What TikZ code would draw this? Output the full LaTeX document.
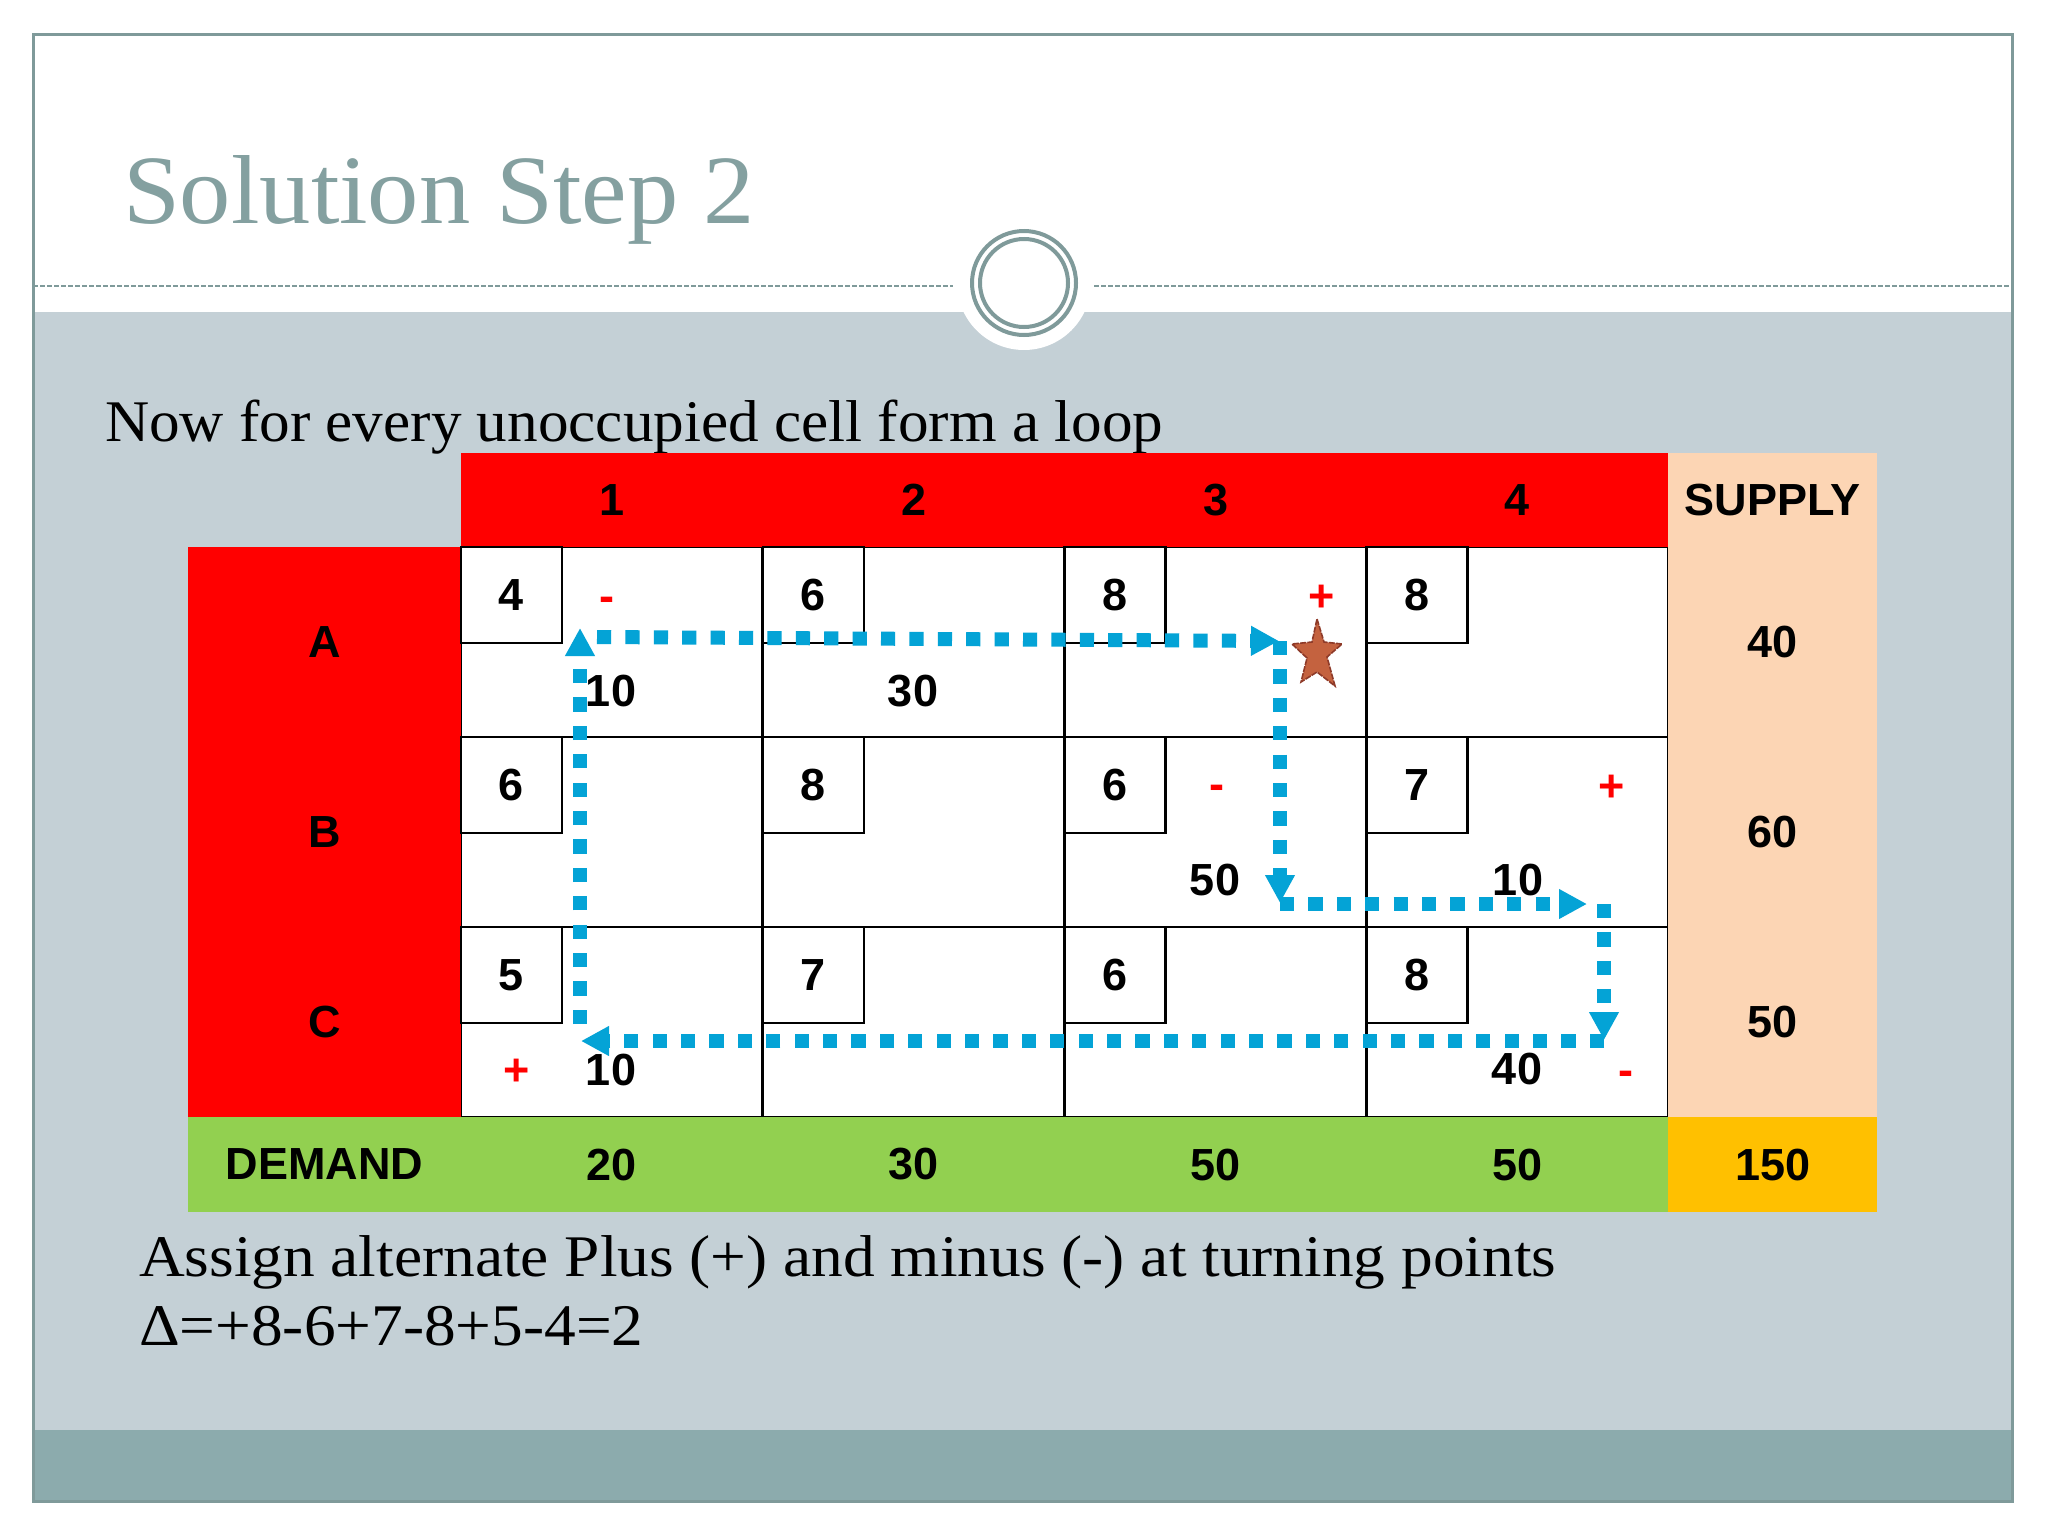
\documentclass[tikz,border=0pt]{standalone}
\usepackage{fontspec}
\usepackage{xcolor}
\usepackage{tikz}
\usetikzlibrary{positioning,arrows.meta}
\setmainfont{Liberation Serif}
\newfontfamily\tablefont{Liberation Sans}
\newfontfamily\titlefont[FakeStretch=1.046]{Liberation Serif}
\newfontfamily\introfont[FakeStretch=1.037]{Liberation Serif}
\newfontfamily\notefont[FakeStretch=1.074]{Liberation Serif}
\definecolor{framegray}{HTML}{7F9A9A}
\definecolor{titlegray}{HTML}{84A0A0}
\definecolor{bandgray}{HTML}{C4D0D6}
\definecolor{footgray}{HTML}{8CABAD}
\definecolor{peach}{HTML}{FCD5B4}
\definecolor{leafgreen}{HTML}{92D050}
\definecolor{amber}{HTML}{FFC000}
\definecolor{loopblue}{HTML}{04A3D6}
\definecolor{starfill}{HTML}{C4623F}
\definecolor{starline}{HTML}{8E3A28}

\begin{document}
\begin{tikzpicture}[x=0.5pt, y=-0.5pt]
\tikzstyle{main}=[rectangle, draw=black, line width=1.35pt, fill=white, minimum width=150.9pt, minimum height=95pt, inner sep=0pt, outer sep=0pt]
\tikzstyle{cost}=[rectangle, draw=black, line width=1.2pt, minimum width=50.5pt, minimum height=48pt, inner sep=0pt, outer sep=0pt, anchor=north west, font=\tablefont\bfseries\fontsize{22.5}{26}\selectfont]
\tikzstyle{num}=[inner sep=0pt, outer sep=0pt, font=\tablefont\bfseries\fontsize{22.5}{26}\selectfont]
\tikzstyle{sign}=[num, text=red]
\tikzstyle{head}=[num, minimum width=150.9pt, minimum height=47pt]
\tikzstyle{side}=[num, minimum width=136.5pt, minimum height=95pt, fill=red]
\tikzstyle{supply}=[num, minimum width=104.5pt, minimum height=95pt, fill=peach]
\tikzstyle{slide}=[inner sep=0pt, outer sep=0pt, anchor=base west]
\tikzstyle{note}=[slide, font=\notefont\fontsize{29.5}{34}\selectfont]
\tikzstyle{connect}=[-{Triangle[length=14pt, width=14pt]}, line width=7pt, color=loopblue, dash pattern=on 7.1pt off 7.1pt]
\tikzstyle{ring}=[circle, draw=framegray, inner sep=0pt]
\tikzstyle{rule}=[draw=framegray, line width=1.2pt, dash pattern=on 2.6pt off 0.9pt]
  \useasboundingbox (0,0) rectangle (2048,1536);
  \fill[white] (0,0) rectangle (2048,1536);
  % slide frame
  \fill[bandgray] (33,312) rectangle (2012,1430);
  \fill[footgray] (33,1430) rectangle (2012,1501);
  \draw[framegray, line width=1.5pt] (33,35) rectangle (2012,1501);
  \node[circle, fill=white, minimum size=67pt, inner sep=0pt] (halo) at (1024,283) {};
  \node[ring, line width=2pt, minimum size=52pt] (ringouter) at (1024,283) {};
  \node[ring, line width=2pt, minimum size=44pt] (ringinner) at (1024,283) {};
  \coordinate (ruleleft) at (33,286);
  \coordinate (rulemidl) at (953,286);
  \coordinate (rulemidr) at (1094,286);
  \coordinate (ruleright) at (2012,286);
  \path (ruleleft) edge [rule] (rulemidl)
        (rulemidr) edge [rule] (ruleright);
  \node[slide, text=titlegray, font=\titlefont\fontsize{49}{56}\selectfont] (title) at (123,223) {Solution Step 2};
  \node[slide, font=\introfont\fontsize{29.5}{34}\selectfont] (intro) at (105,441) {Now for every unoccupied cell form a loop};
  \node[note] (assign) at (139,1276) {Assign alternate Plus (+) and minus (-) at turning points};
  \node[note] (delta) at (139,1345) {Δ=+8-6+7-8+5-4=2};
  % table cells
  \node[main, anchor=north west] (a1) at (461,547) {};
  \node[main] (a2) [right=0pt of a1] {};
  \node[main] (a3) [right=0pt of a2] {};
  \node[main] (a4) [right=0pt of a3] {};
  \node[main] (b1) [below=0pt of a1] {};
  \node[main] (b2) [right=0pt of b1] {};
  \node[main] (b3) [right=0pt of b2] {};
  \node[main] (b4) [right=0pt of b3] {};
  \node[main] (c1) [below=0pt of b1] {};
  \node[main] (c2) [right=0pt of c1] {};
  \node[main] (c3) [right=0pt of c2] {};
  \node[main] (c4) [right=0pt of c3] {};
  % headers round the cells
  \node[head, fill=red] (col1) [above=0pt of a1] {1};
  \node[head, fill=red] (col2) [above=0pt of a2] {2};
  \node[head, fill=red] (col3) [above=0pt of a3] {3};
  \node[head, fill=red] (col4) [above=0pt of a4] {4};
  \node[side] (rowa) [left=0pt of a1] {A};
  \node[side] (rowb) [left=0pt of b1] {B};
  \node[side] (rowc) [left=0pt of c1] {C};
  \node[supply, minimum height=47pt] (suphead) [right=0pt of a4.north east, anchor=south west] {SUPPLY};
  \node[supply] (supa) [right=0pt of a4] {40};
  \node[supply] (supb) [right=0pt of b4] {60};
  \node[supply] (supc) [right=0pt of c4] {50};
  \node[head, fill=leafgreen, minimum height=47.5pt] (dem1) [below=0pt of c1] {20};
  \node[head, fill=leafgreen, minimum height=47.5pt] (dem2) [below=0pt of c2] {30};
  \node[head, fill=leafgreen, minimum height=47.5pt] (dem3) [below=0pt of c3] {50};
  \node[head, fill=leafgreen, minimum height=47.5pt] (dem4) [below=0pt of c4] {50};
  \node[num, fill=leafgreen, minimum width=136.5pt, minimum height=47.5pt] (demand) [left=0pt of dem1] {DEMAND};
  \node[num, fill=amber, minimum width=104.5pt, minimum height=47.5pt] (total) [right=0pt of dem4] {150};
  % unit costs
  \node[cost] (ca1) at (a1.north west) {4};
  \node[cost] (ca2) at (a2.north west) {6};
  \node[cost] (ca3) at (a3.north west) {8};
  \node[cost] (ca4) at (a4.north west) {8};
  \node[cost] (cb1) at (b1.north west) {6};
  \node[cost] (cb2) at (b2.north west) {8};
  \node[cost] (cb3) at (b3.north west) {6};
  \node[cost] (cb4) at (b4.north west) {7};
  \node[cost] (cc1) at (c1.north west) {5};
  \node[cost] (cc2) at (c2.north west) {7};
  \node[cost] (cc3) at (c3.north west) {6};
  \node[cost] (cc4) at (c4.north west) {8};
  % allocations
  \node[num] (qa1) at (611,691) {10};
  \node[num] (qa2) at (913,691) {30};
  \node[num] (qb3) at (1215,880) {50};
  \node[num] (qb4) at (1518,880) {10};
  \node[num] (qc1) at (611,1070) {10};
  \node[num] (qc4) at (1517,1069) {40};
  % the loop
  \coordinate (loopa) at (597,637);
  \coordinate (loopb) at (1279,641);
  \coordinate (loopc) at (1280,641);
  \coordinate (loopd) at (1280,903);
  \coordinate (loope) at (1280,904);
  \coordinate (loopf) at (1587,904);
  \coordinate (loopg) at (1604,904);
  \coordinate (looph) at (1604,1040);
  \coordinate (loopi) at (1604,1041);
  \coordinate (loopj) at (581,1041);
  \coordinate (loopk) at (580,1024);
  \coordinate (loopl) at (580,628);
  \path (loopa) edge [connect] (loopb)
        (loopc) edge [connect] (loopd)
        (loope) edge [connect] (loopf)
        (loopg) edge [connect] (looph)
        (loopi) edge [connect] (loopj)
        (loopk) edge [connect] (loopl);
  % signs at the turning points
  \node[sign] (signa) at (607,604) {-};
  \node[sign] (signb) at (1322,598) {+};
  \node[sign] (signc) at (1217,792) {-};
  \node[sign] (signd) at (1612,788) {+};
  \node[sign] (signe) at (1626,1078) {-};
  \node[sign] (signf) at (517,1072) {+};
  % the star
  \draw[fill=starfill, draw=starline, line width=0.8pt, dash pattern=on 3pt off 0.6pt]
    (1317,619) -- (1324,642) -- (1342,644) -- (1327,657) -- (1335,686) -- (1317,672)
    -- (1301,682) -- (1307,658) -- (1292,644) -- (1312,642) -- cycle;
\end{tikzpicture}
\end{document}
